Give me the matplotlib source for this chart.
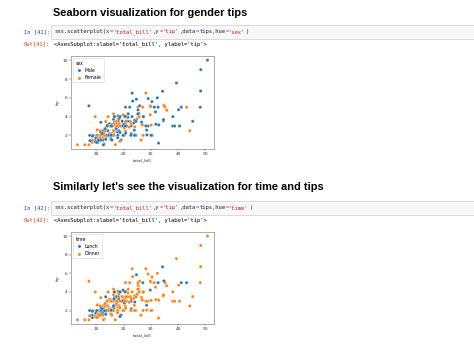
import matplotlib
matplotlib.use("Agg")
import matplotlib.pyplot as plt
from matplotlib.patches import Rectangle
from matplotlib.lines import Line2D

# ---------------- data (tips) ----------------
total_bill = [16.99,10.34,21.01,23.68,24.59,25.29,8.77,26.88,15.04,14.78,10.27,35.26,15.42,18.43,14.83,21.58,10.33,16.29,16.97,
              20.65,17.92,20.29,15.77,39.42,19.82,17.81,13.37,12.69,21.70,19.65,9.55,18.35,15.06,20.69,17.78,24.06,16.31,16.93,18.69,31.27,16.04,
              17.46,13.94,9.68,30.40,18.29,22.23,32.40,28.55,18.04,12.54,10.29,34.81,9.94,25.56,19.49,
              38.01,26.41,11.24,48.27,20.29,13.81,11.02,18.29,17.59,20.08,16.45,3.07,20.23,15.01,12.02,17.07,26.86,25.28,14.73,10.51,17.92,
              27.20,22.76,17.29,19.44,16.66,10.07,32.68,15.98,34.83,13.03,18.28,24.71,21.16,
              28.97,22.49,5.75,16.32,22.75,40.17,27.28,12.03,21.01,12.46,11.35,15.38,
              44.30,22.42,20.92,15.36,20.49,25.21,18.24,14.31,14.00,7.25,
              38.07,23.95,25.71,17.31,29.93,
              10.65,12.43,24.08,11.69,13.42,14.26,15.95,12.48,29.80,8.52,14.52,11.38,22.82,19.08,20.27,11.17,12.26,18.26,8.51,10.33,14.15,16.00,
              13.16,17.47,34.30,41.19,27.05,16.43,8.35,18.64,11.87,9.78,7.51,
              14.07,13.13,17.26,24.55,19.77,29.85,48.17,25.00,13.39,16.49,21.50,12.66,16.21,13.81,17.51,24.52,20.76,31.71,
              10.59,10.63,50.81,15.81,
              7.25,31.85,16.82,32.90,17.89,14.48,9.60,34.63,34.65,23.33,45.35,23.17,40.55,20.69,20.90,30.46,18.15,23.10,15.69,
              19.81,28.44,15.48,16.58,7.56,10.34,43.11,13.00,13.51,18.71,12.74,13.00,16.40,20.53,16.47,
              26.59,38.73,24.27,12.76,30.06,25.89,48.33,13.27,28.17,12.90,28.15,11.59,7.74,30.14,
              12.16,13.42,8.58,15.98,13.42,16.27,10.09,
              20.45,13.28,22.12,24.01,15.69,11.61,10.77,15.53,10.07,12.60,32.83,35.83,29.03,27.18,22.67,17.82,18.78]
tip = [1.01,1.66,3.50,3.31,3.61,4.71,2.00,3.12,1.96,3.23,1.71,5.00,1.57,3.00,3.02,3.92,1.67,3.71,3.50,
       3.35,4.08,2.75,2.23,7.58,3.18,2.34,2.00,2.00,4.30,3.00,1.45,2.50,3.00,2.45,3.27,3.60,2.00,3.07,2.31,5.00,2.24,
       2.54,3.06,1.32,5.60,3.00,5.00,6.00,2.05,3.00,2.50,2.60,5.20,1.56,4.34,3.51,
       3.00,1.50,1.76,6.73,3.21,2.00,1.98,3.76,2.64,3.15,2.47,1.00,2.01,2.09,1.97,3.00,3.14,5.00,2.20,1.25,3.08,
       4.00,3.00,2.71,3.00,3.40,1.83,5.00,2.03,5.17,2.00,4.00,5.85,3.00,
       3.00,3.50,1.00,4.30,3.25,4.73,4.00,1.50,3.00,1.50,2.50,3.00,
       2.50,3.48,4.08,1.64,4.06,4.29,3.76,4.00,3.00,1.00,
       4.00,2.55,4.00,3.50,5.07,
       1.50,1.80,2.92,2.31,1.68,2.50,2.00,2.52,4.20,1.48,2.00,2.00,2.18,1.50,2.83,1.50,2.00,3.25,1.25,2.00,2.00,2.00,
       2.75,3.50,6.70,5.00,5.00,2.30,1.50,1.36,1.63,1.73,2.00,
       2.50,2.00,2.74,2.00,2.00,5.14,5.00,3.75,2.61,2.00,3.50,2.50,2.00,2.00,3.00,3.48,2.24,4.50,
       1.61,2.00,10.00,3.16,
       5.15,3.18,4.00,3.11,2.00,2.00,4.00,3.55,3.68,5.65,3.50,6.50,3.00,5.00,3.50,2.00,3.50,4.00,1.50,
       4.19,2.56,2.02,4.00,1.44,2.00,5.00,2.00,2.00,4.00,2.01,2.00,2.50,4.00,3.23,
       3.41,3.00,2.03,2.23,2.00,5.16,9.00,2.50,6.50,1.10,3.00,1.50,1.44,3.09,
       2.20,3.48,1.92,3.00,1.58,2.50,2.00,
       3.00,2.72,2.88,2.00,3.00,3.39,1.47,3.00,1.25,1.00,1.17,4.67,5.92,2.00,2.00,1.75,3.00]
sex = list("FMMMFMMMMMMFMMFMFMF"
           "MMFFMMMMMMFMMFFMMMFMMM"
           "MMMMMMMMMMFFMMM"
           "MFMMMMMMMMFFMMMFFFFMM"
           "MMMMMFMMFMMMM"
           "MMFFFMMMMMFF"
           "FFFMMMMFMF"
           "MMFFM"
           "FFFMFMMFFMFFMMFFFFFFFM"
           "FFMMFFFFFMM"
           "MMMMMFMFFMMMFMFMMM"
           "FFMM"
           "MMMMMMFMMMMMMMFMFMM"
           "FMMMMMFFMMFFFMF"
           "MMMFMMMFFFMMMF"
           "MFMFMFF"
           "MMFMMMMMMMMFMFMMF")
time = (["D"] * 77 + ["L"] * 13 + ["D"] * 12 + ["D"] * 10 + ["D"] * 5 + ["L"] * 33 +
        ["D"] * 18 + ["D"] * 4 + ["D"] * 19 + ["L"] * 15 + ["D"] * 14 + ["L"] * 7 + ["D"] * 17)

x_ticks = [10, 20, 30, 40, 50]
y_ticks = [2, 4, 6, 8, 10]

BLUE = "#1f77b4"
ORANGE = "#ff7f0e"

W, H = 474, 353
fig = plt.figure(figsize=(W / 100, H / 100), dpi=100)
fig.patch.set_facecolor("white")

MONO = "DejaVu Sans Mono"
mono_fs = 3.95  # pt
char_w = 0.602 * mono_fs * 100 / 72  # px


def ftext(x, y, s, **kw):
    fig.text(x / W, 1 - y / H, s, va="center", **kw)


def code_line(x, y, segments):
    i = 0
    for s, c in segments:
        ftext(x + i * char_w, y, s, family=MONO, fontsize=mono_fs, color=c)
        i += len(s)


def cell(y_title, title, y_in, n, hue):
    ftext(53, y_title, title, family="Liberation Sans", fontweight="bold", fontsize=7.95, color="black")
    fig.patches.append(Rectangle((51 / W, 1 - (y_in + 7) / H), (W - 51) / W, 14 / H,
                                 transform=fig.transFigure, facecolor="#f7f7f7",
                                 edgecolor="#cfcfcf", linewidth=0.5))
    ftext(50, y_in, f"In [{n}]:", family=MONO, fontsize=mono_fs, color="#303f9f", ha="right")
    red, pur, blk = "#ba2121", "#aa22ff", "#222222"
    code_line(54, y_in, [("sns.scatterplot(x", blk), ("=", pur), ("'total_bill'", red), (",y", blk),
                         ("=", pur), ("'tip'", red), (",data", blk), ("=", pur), ("tips,hue", blk),
                         ("=", pur), (f"'{hue}'", red), (")", blk)])
    ftext(50, y_in + 12, f"Out[{n}]:", family=MONO, fontsize=mono_fs, color="#d84315", ha="right")
    ftext(54, y_in + 12, "<AxesSubplot:xlabel='total_bill', ylabel='tip'>", family=MONO,
          fontsize=mono_fs, color="black")


def scatter(ax_rect, groups, labels, legend_title):
    left, top, right, bottom = ax_rect
    ax = fig.add_axes([left / W, 1 - bottom / H, (right - left) / W, (bottom - top) / H])
    cols = [BLUE if g == labels[0][0] else ORANGE for g in groups]
    ax.scatter(total_bill, tip, c=cols, s=5.2, edgecolors="white", linewidths=0.2, zorder=3)
    ax.set_xticks(x_ticks)
    ax.set_yticks(y_ticks)
    ax.tick_params(labelsize=3.2, length=1.5, width=0.3, pad=1, colors="#333333")
    for sp in ax.spines.values():
        sp.set_color("#8a8a8a")
        sp.set_linewidth(0.5)
    ax.set_xlabel("total_bill", fontsize=3.2, labelpad=1.2, color="#333333")
    ax.set_ylabel("tip", fontsize=3.2, labelpad=1.5, color="#333333")
    handles = [Line2D([], [], marker="o", linestyle="", markersize=2.3, markerfacecolor=BLUE,
                      markeredgecolor="white", markeredgewidth=0.2),
               Line2D([], [], marker="o", linestyle="", markersize=2.3, markerfacecolor=ORANGE,
                      markeredgecolor="white", markeredgewidth=0.2)]
    leg = ax.legend(handles, [labels[0][1], labels[1][1]], title=legend_title, loc="upper left",
                    fontsize=3.3, title_fontsize=3.3, frameon=True, borderpad=0.5,
                    handletextpad=0.7, labelspacing=0.5, handlelength=1.3, borderaxespad=0.5)
    leg._legend_box.align = "left"
    leg.get_frame().set_linewidth(0.4)
    leg.get_frame().set_edgecolor("#cccccc")
    return ax


cell(13, "Seaborn visualization for gender tips", 32, 41, "sex")
scatter((71, 56, 214, 149), sex, [("M", "Male"), ("F", "Female")], "sex")

cell(187, "Similarly let's see the visualization for time and tips", 208, 42, "time")
scatter((71, 232, 214, 324), time, [("L", "Lunch"), ("D", "Dinner")], "time")

fig.savefig("out.png", dpi=100, facecolor="white")
